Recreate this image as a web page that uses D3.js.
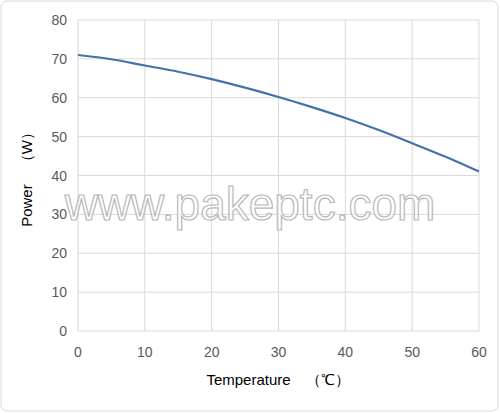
<!DOCTYPE html>
<html><head><meta charset="utf-8">
<script src="https://cdn.jsdelivr.net/npm/d3@7"></script>
<style>body{margin:0;background:#fff}</style>
</head><body><svg id="c" width="500" height="413"></svg>
<script>
var temps = [0, 5, 10, 15, 20, 25, 30, 35, 40, 45, 50, 55, 60];
var power = [71, 69.9, 68.3, 66.7, 64.8, 62.6, 60.2, 57.6, 54.8, 51.7, 48.3, 44.8, 41];
var xTicks = [0, 10, 20, 30, 40, 50, 60];
var yTicks = [0, 10, 20, 30, 40, 50, 60, 70, 80];

var svg = d3.select("#c");
svg.append("rect").attr("x", 1).attr("y", 1).attr("width", 497).attr("height", 410)
	.attr("rx", 6).attr("fill", "#fff").attr("stroke", "#d9d9d9");

var x = d3.scaleLinear().domain([0, 60]).range([78, 479]);
var y = d3.scaleLinear().domain([0, 80]).range([331, 20]);

var g = svg.append("g");
g.selectAll(".vg").data(xTicks).enter().append("line")
	.attr("x1", d => x(d)).attr("x2", d => x(d)).attr("y1", y(0)).attr("y2", y(80))
	.attr("stroke", "#d9d9d9");
g.selectAll(".hg").data(yTicks).enter().append("line")
	.attr("x1", x(0)).attr("x2", x(60)).attr("y1", d => y(d)).attr("y2", d => y(d))
	.attr("stroke", "#d9d9d9");

var font = "Liberation Sans, Arial, sans-serif";
g.selectAll(".xl").data(xTicks).enter().append("text")
	.attr("x", d => x(d)).attr("y", y(0) + 26).attr("text-anchor", "middle")
	.attr("font-family", font).attr("font-size", 14).attr("fill", "#595959").text(d => d);
g.selectAll(".yl").data(yTicks).enter().append("text")
	.attr("x", x(0) - 11).attr("y", d => y(d) + 5).attr("text-anchor", "end")
	.attr("font-family", font).attr("font-size", 14).attr("fill", "#595959").text(d => d);

svg.append("text").attr("x", 278).attr("y", 385).attr("text-anchor", "middle")
	.attr("font-family", font).attr("font-size", 15).attr("fill", "#000")
	.text("Temperature　（℃）");
svg.append("text").attr("transform", "translate(32,176) rotate(-90)").attr("text-anchor", "middle")
	.attr("font-family", font).attr("font-size", 15).attr("fill", "#000")
	.text("Power　（W）");

svg.append("path").datum(temps)
	.attr("d", d3.line().x(d => x(d)).y((d, i) => y(power[i])).curve(d3.curveMonotoneX))
	.attr("fill", "none").attr("stroke", "#4472a8").attr("stroke-width", 2.2);

svg.append("text").attr("x", 250).attr("y", 220).attr("text-anchor", "middle")
	.attr("font-family", font).attr("font-size", 46).attr("fill", "rgba(255,255,255,0.6)")
	.attr("stroke", "#b8b8b8").attr("stroke-width", 1.2)
	.text("www.pakeptc.com");
</script></body></html>
